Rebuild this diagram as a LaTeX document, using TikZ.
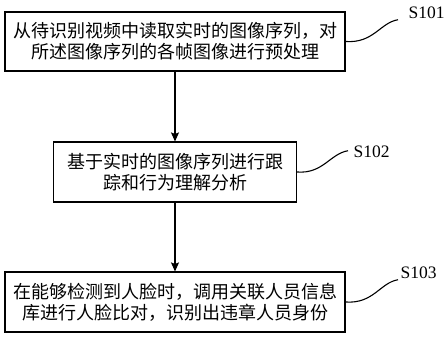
\documentclass[tikz,border=0pt]{standalone}
\usepackage{fontspec}
\setmainfont{Liberation Serif}
\newfontfamily\cjk{Noto Sans CJK SC}
\usetikzlibrary{arrows.meta}

\begin{document}
\begin{tikzpicture}[x=1pt, y=-1pt, line width=1.1pt,
  stepbox/.style={rectangle, draw, inner sep=0pt, align=center,
    font=\cjk\fontsize{18}{21}\selectfont},
  lbl/.style={inner sep=0pt, anchor=base west, font=\fontsize{17.5}{17.5}\selectfont},
  flow/.style={-{Stealth[length=9pt, width=8pt, inset=1.5pt]}}]
\useasboundingbox (0,0) rectangle (444,337);
\node (b1) [stepbox, minimum width=340pt, minimum height=59pt] at (175,41.5)
  {从待识别视频中读取实时的图像序列，对\\所述图像序列的各帧图像进行预处理};
\node (b2) [stepbox, minimum width=243pt, minimum height=60pt] at (175,172)
  {基于实时的图像序列进行跟\\踪和行为理解分析};
\node (b3) [stepbox, minimum width=340pt, minimum height=60pt] at (175,302)
  {在能够检测到人脸时，调用关联人员信息\\库进行人脸比对，识别出违章人员身份};
\node (l1) [lbl] at (408,19) {S101};
\node (l2) [lbl] at (353,157) {S102};
\node (l3) [lbl] at (400,278) {S103};
\draw [flow] (b1) -- (b2);
\draw [flow] (b2) -- (b3);
\draw (b1.east) .. controls +(28,2) and +(-18,3) .. ([xshift=-10pt]l1.south west);
\draw (b2.east) .. controls +(26,2) and +(-18,3) .. ([xshift=-5pt,yshift=7pt]l2.south west);
\draw (b3.east) .. controls +(28,2) and +(-18,3) .. ([xshift=-2pt,yshift=-1pt]l3.south west);
\end{tikzpicture}
\end{document}
